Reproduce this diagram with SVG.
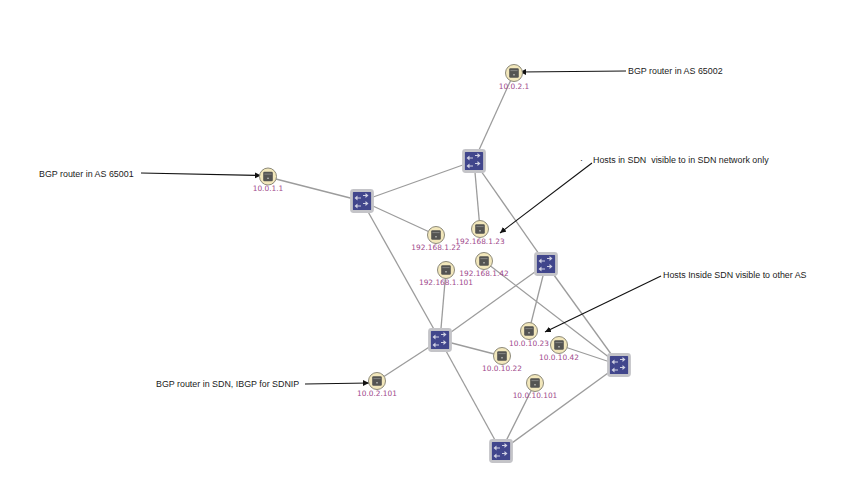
<svg xmlns="http://www.w3.org/2000/svg" width="846" height="497" viewBox="0 0 846 497">
<style>
.lnk{stroke:#9c9c9c;stroke-width:1.3;fill:none}
.arr{stroke:#111;stroke-width:1.1;fill:none;marker-end:url(#ah)}
.cap{font:8.9px "Liberation Sans",Arial,sans-serif;fill:#1a1a1a}
.lbl{font:7.400px "DejaVu Sans",sans-serif;fill:#a04a8c;text-anchor:middle}
</style>
<defs>
<marker id="ah" markerUnits="userSpaceOnUse" markerWidth="8" markerHeight="8" refX="6" refY="3" orient="auto"><path d="M0 0L6 3L0 6Z" fill="#111"/></marker>
<g id="sw">
<rect x="-10.500" y="-10.500" width="21" height="21" rx="2" fill="#41468c" stroke="#c4c4c8" stroke-width="2.800"/>
<path d="M-6-3H-1M6-5.500H1M-6 5H-1M6 2.500H1" stroke="#cfd0e2" stroke-width="1.200" fill="none"/>
<path d="M-7.500-3L-4.500-5.500V-.5ZM6.500-5.500L3.500-8V-3ZM-7.500 5L-4.500 2.500V7.500ZM6.500 2.500L3.500 0V5Z" fill="#cfd0e2"/>
</g>
<g id="ho">
<circle r="8.500" fill="#f2e7bb" stroke="#8d8a7a" stroke-width="1"/>
<rect x="-4.800" y="-4.800" width="9.600" height="9.600" rx="1.200" fill="#545452"/>
<path d="M-3.600-2.400H3.600" stroke="#9a9a96" stroke-width=".7"/>
<rect x="-.8" y="1.200" width="1.600" height="1.200" fill="#c4c4c0"/>
</g>
</defs>
<rect width="846" height="497" fill="#fff"/>
<g id="connectors">
<path class="lnk" d="M514 73L474 161"/>
<path class="lnk" d="M268 177L362 201"/>
<path class="lnk" d="M362 201L474 161"/>
<path class="lnk" d="M362 201L436 235"/>
<path class="lnk" d="M474 161L480 229"/>
<path class="lnk" d="M474 161L546 264"/>
<path class="lnk" d="M546 264L619 365"/>
<path class="lnk" d="M546 264L440 340"/>
<path class="lnk" d="M546 264L529 331"/>
<path class="lnk" d="M362 201L440 340"/>
<path class="lnk" d="M446 270L440 340"/>
<path class="lnk" d="M440 340L502 356"/>
<path class="lnk" d="M440 340L377 381"/>
<path class="lnk" d="M440 340L501 451"/>
<path class="lnk" d="M484 261L619 365"/>
<path class="lnk" d="M559 345L619 365"/>
<path class="lnk" d="M619 365L501 451"/>
<path class="lnk" d="M535 383L501 451"/>
<path class="arr" d="M626 71L520 72"/>
<path class="arr" d="M141 173L261 175.500"/>
<path class="arr" d="M592 163L500 233"/>
<path class="arr" d="M661 276L545 332"/>
<path class="arr" d="M305 384L369 383"/>
</g>
<g id="s1"><use href="#sw" x="474" y="161"/></g>
<g id="s2"><use href="#sw" x="362" y="201"/></g>
<g id="s3"><use href="#sw" x="546" y="264"/></g>
<g id="s4"><use href="#sw" x="440" y="340"/></g>
<g id="s5"><use href="#sw" x="619" y="365"/></g>
<g id="s6"><use href="#sw" x="501" y="451"/></g>
<g id="h1"><use href="#ho" x="514" y="73"/><text class="lbl" x="514" y="89">10.0.2.1</text></g>
<g id="h2"><use href="#ho" x="268" y="176.500"/><text class="lbl" x="268" y="191">10.0.1.1</text></g>
<g id="h3"><use href="#ho" x="436" y="235"/><text class="lbl" x="436" y="250">192.168.1.22</text></g>
<g id="h4"><use href="#ho" x="480" y="229"/><text class="lbl" x="480" y="244">192.168.1.23</text></g>
<g id="h5"><use href="#ho" x="484" y="261"/><text class="lbl" x="484" y="276">192.168.1.42</text></g>
<g id="h6"><use href="#ho" x="446" y="270"/><text class="lbl" x="446" y="285">192.168.1.101</text></g>
<g id="h7"><use href="#ho" x="529" y="331"/><text class="lbl" x="529" y="346">10.0.10.23</text></g>
<g id="h8"><use href="#ho" x="559" y="345"/><text class="lbl" x="559" y="360">10.0.10.42</text></g>
<g id="h9"><use href="#ho" x="502" y="356"/><text class="lbl" x="502" y="371">10.0.10.22</text></g>
<g id="h10"><use href="#ho" x="535" y="383"/><text class="lbl" x="535" y="398">10.0.10.101</text></g>
<g id="h11"><use href="#ho" x="377" y="381"/><text class="lbl" x="377" y="396">10.0.2.101</text></g>
<g id="captions">
<text class="cap" x="628" y="74">BGP router in AS 65002</text>
<text class="cap" x="580" y="163">·</text>
<text class="cap" x="593" y="163" xml:space="preserve">Hosts in SDN  visible to in SDN network only</text>
<text class="cap" x="39" y="177">BGP router in AS 65001</text>
<text class="cap" x="663" y="278">Hosts Inside SDN visible to other AS</text>
<text class="cap" x="156" y="387">BGP router in SDN, IBGP for SDNIP</text>
</g>
</svg>
